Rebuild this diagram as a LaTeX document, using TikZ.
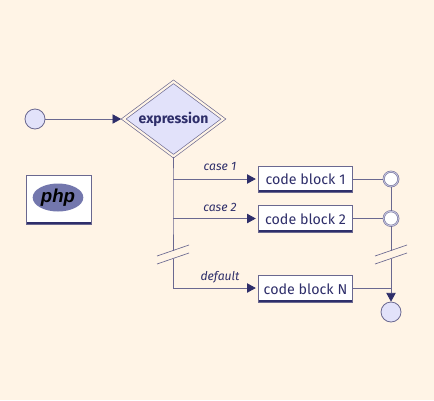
\documentclass[tikz,border=0pt]{standalone}
\usepackage{fontspec}
\setmainfont{Fira Sans}
\newfontfamily\logofont{Liberation Sans}
\usepackage{tikz}
\usetikzlibrary{shapes.geometric, arrows.meta}
\definecolor{bgcol}{HTML}{FFF4E6}
\definecolor{inkcol}{HTML}{2E2E6A}
\definecolor{linecol}{HTML}{6A6890}
\definecolor{softcol}{HTML}{E2E2FA}
\definecolor{logocol}{HTML}{7377AD}
\tikzset{
  flow/.style={draw=linecol, line width=0.55pt},
  tip/.style={-{Triangle[length=6.5pt,width=7pt,color=inkcol]}, shorten >=1.5pt},
  endpoint/.style={circle, draw=linecol, fill=softcol, line width=0.6pt, minimum size=15pt, inner sep=0pt},
  joint/.style={circle, draw=linecol, fill=white, double=softcol!70!linecol, double distance=0.8pt, line width=0.35pt, minimum size=11pt, inner sep=0pt},
  codebox/.style={draw=linecol, fill=white, line width=0.6pt, text=inkcol, minimum width=71pt, minimum height=20pt, inner sep=0pt, font=\fontsize{10.7}{12}\selectfont,
    path picture={\draw[inkcol, line width=3.6pt] (path picture bounding box.south west) -- (path picture bounding box.south east);}},
  caselabel/.style={text=inkcol, inner sep=0pt, font=\fontsize{9.1}{10}\selectfont\itshape},
}
\begin{document}
\begin{tikzpicture}[x=0.75pt, y=-0.75pt]
  \fill[bgcol] (0,0) rectangle (434,400);
  \useasboundingbox (0,0) rectangle (434,400);

  \node[endpoint] (start) at (35,119) {};
  \node[diamond, aspect=1.3, draw=linecol, fill=softcol, double=bgcol, double distance=1.6pt, line width=0.5pt, inner sep=0pt, minimum width=75pt, minimum height=56pt, text=inkcol, font=\fontsize{10.5}{12}\selectfont\bfseries] (expr) at (173.5,119) {expression};

  \node[codebox] (block1) at (305.5,179.5) {code block 1};
  \node[codebox] (block2) at (305.5,219) {code block 2};
  \node[codebox] (blockN) at (305.5,289) {code block N};

  \node[joint] (join1) at (391,179) {};
  \node[joint] (join2) at (391,218.5) {};
  \node[endpoint] (stop) at (391,312) {};

  \coordinate (case1) at (173,179); \coordinate (case2) at (173,218.5);
  \coordinate (caseN) at (173,288); \coordinate (joinN) at (391,288);
  \coordinate (gapA) at (173,250.5); \coordinate (gapB) at (173,258.5);
  \coordinate (gapC) at (391,250.5); \coordinate (gapD) at (391,258.5);

  \draw[flow, tip] (start) -- (expr);
  \draw[flow] (expr.south -| case1) -- (case1) -- (case2) -- (gapA);
  \draw[flow] (gapB) -- (caseN);
  \draw[flow, tip] (case1) -- (block1.west |- case1);
  \draw[flow, tip] (case2) -- (block2.west |- case2);
  \draw[flow, tip] (caseN) -- (caseN -| blockN.west);
  \draw[flow] (block1.east |- join1) -- (join1); \draw[flow] (block2.east |- join2) -- (join2);
  \draw[flow] (blockN.east |- joinN) -- (joinN);
  \draw[flow] (join1) -- (join2); \draw[flow] (join2) -- (gapC);
  \draw[flow, tip, shorten >=0pt] (gapD) -- (stop);

  % break marks
  \foreach \g in {gapA, gapB, gapC, gapD}
    \draw[linecol, line width=0.5pt] ([shift={(-16,5.5)}]\g) -- ([shift={(16,-5.5)}]\g);

  \node[caselabel] (label1) at (220,167) {case 1};
  \node[caselabel] (label2) at (220,207) {case 2};
  \node[caselabel] (labelN) at (220,277) {default};

  % logo
  \node[draw=linecol, fill=white, line width=0.6pt, minimum width=49pt, minimum height=37pt, inner sep=0pt,
    path picture={\draw[inkcol, line width=4.6pt] (path picture bounding box.south west) -- (path picture bounding box.south east);}] (logobox) at (59,200) {};
  \node[ellipse, fill=logocol, minimum width=38pt, minimum height=21pt, inner sep=0pt, font=\logofont\fontsize{14}{15}\selectfont\bfseries\itshape] (logo) at (58,197.5) {php};
\end{tikzpicture}
\end{document}
